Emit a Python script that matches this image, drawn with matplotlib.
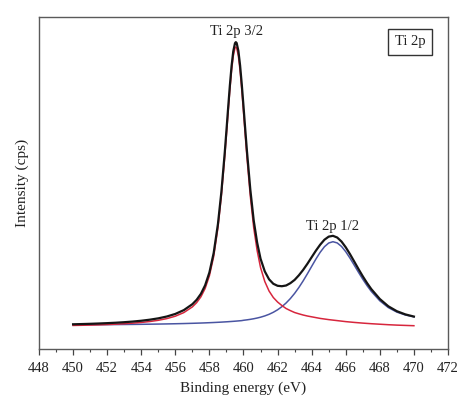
import numpy as np
import matplotlib
matplotlib.use("Agg")
import matplotlib.pyplot as plt
from matplotlib.ticker import MultipleLocator

plt.rcParams['font.family'] = ['Liberation Serif', 'DejaVu Serif']

# binding energy grid (eV)
energy = [450, 450.5, 451, 451.5, 452, 452.5, 453, 453.5, 454, 454.5, 455, 455.5,
          456, 456.5, 457, 457.25, 457.5, 457.75, 458, 458.25, 458.5, 458.7, 458.9,
          459.0, 459.1, 459.2, 459.3, 459.4, 459.5, 459.55, 459.6, 459.7, 459.8,
          459.9, 460.0, 460.1, 460.2, 460.4, 460.6, 460.8, 461.0, 461.25, 461.5,
          461.75, 462, 462.25, 462.5, 462.75, 463, 463.25, 463.5, 463.75, 464, 464.25, 464.5,
          464.75, 465, 465.25, 465.5, 465.75, 466, 466.25, 466.5, 466.75, 467,
          467.25, 467.5, 468, 468.5, 469, 469.5, 470]

# Ti 2p 3/2 component (red)
ti_32 = [2356, 2374, 2394, 2419, 2449, 2484, 2529, 2585, 2656, 2749, 2872, 3042,
         3282, 3645, 4212, 4635, 5218, 6063, 7328, 9249, 12124, 15284, 19236,
         21445, 23714, 25905, 27840, 29304, 30098, 30200, 30098, 29304, 27840,
         25905, 23714, 21445, 19236, 15284, 12124, 9850, 8150, 6750, 5800,
         5150, 4700, 4350, 4050, 3840, 3650, 3520, 3400, 3300, 3220, 3140, 3060,
         3000, 2940, 2890, 2840, 2790, 2740, 2700, 2660, 2625, 2590,
         2560, 2530, 2480, 2430, 2390, 2360, 2330]

# Ti 2p 1/2 component (blue)
ti_12 = [2417, 2421, 2426, 2432, 2438, 2445, 2453, 2461, 2471, 2483, 2495, 2510,
         2527, 2547, 2571, 2584, 2598, 2614, 2632, 2651, 2672, 2690, 2711,
         2721, 2732, 2744, 2756, 2769, 2782, 2789, 2796, 2811, 2826,
         2842, 2873, 2895, 2917, 2967, 3027, 3098, 3181, 3310, 3471,
         3673, 3922, 4229, 4602, 5044, 5562, 6153, 6811, 7522, 8262, 8997, 9673,
         10230, 10599, 10730, 10609, 10260, 9733, 9087, 8382, 7667, 6981,
         6338, 5762, 4822, 4142, 3691, 3401, 3216]

# measured envelope (black)
measured = [2473, 2495, 2520, 2551, 2587, 2629, 2682, 2746, 2827, 2932, 3067, 3252,
            3509, 3892, 4483, 4919, 5516, 6377, 7660, 9600, 12496, 15674, 19647,
            21866, 24146, 26349, 28296, 29773, 30580, 30689, 30594, 29815, 28366,
            26447, 24287, 22040, 19853, 15951, 12851, 10648, 9031, 7760, 6971,
            6523, 6322, 6279, 6352, 6584, 6912, 7373, 7911, 8522, 9182, 9837, 10433,
            10930, 11239, 11320, 11149, 10750, 10173, 9487, 8742, 7992, 7271,
            6598, 5992, 5002, 4272, 3781, 3461, 3246]

fig = plt.figure(figsize=(4.74, 4.15), dpi=100)
ax = fig.add_axes([0.0823, 0.159, 0.8628, 0.80])

ax.plot(energy, ti_12, color="#4a55a2", lw=1.1)
ax.plot(energy, ti_32, color="#d7263d", lw=1.1)
ax.plot(energy, measured, color="#151515", lw=1.6)

ax.set_xlim(448, 472)
ax.set_ylim(0, 33200)
ax.xaxis.set_major_locator(MultipleLocator(2))
ax.xaxis.set_minor_locator(MultipleLocator(1))
ax.set_yticks([])
ax.tick_params(axis='x', which='major', direction='out', length=4, width=0.9,
               labelsize=10.5, colors="#444444", labelcolor="#222222", pad=5)
ax.tick_params(axis='x', which='minor', direction='out', length=2.5, width=0.8,
               colors="#444444")
for s in ax.spines.values():
    s.set_color("#5a5a5a")
    s.set_linewidth(1.0)

ax.set_xlabel("Binding energy (eV)", fontsize=11, color="#222222", labelpad=5)
ax.set_ylabel("Intensity (cps)", fontsize=11, color="#222222", labelpad=7)

ax.text(459.6, 31800, "Ti 2p 3/2", ha="center", va="center", fontsize=10.5, color="#222222")
ax.text(465.2, 12250, "Ti 2p 1/2", ha="center", va="center", fontsize=10.5, color="#222222")
ax.text(0.907, 0.925, "Ti 2p", transform=ax.transAxes, ha="center", va="center",
        fontsize=10.5, color="#222222",
        bbox=dict(boxstyle="square,pad=0.45", fc="white", ec="#333333", lw=1.0))

fig.savefig("out.png", dpi=100)
